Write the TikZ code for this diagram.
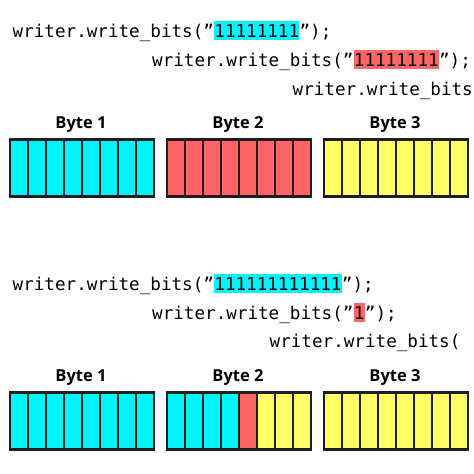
\documentclass[tikz,border=0pt]{standalone}
\usepackage{fontspec}
\usetikzlibrary{positioning}
\newfontfamily\codefont{DejaVu Sans Mono}
\newfontfamily\titrefont{Open Sans}
\definecolor{Cyan}{HTML}{00F6FF}
\definecolor{Rouge}{HTML}{FF6565}
\definecolor{Jaune}{HTML}{FFFF66}
\definecolor{Trait}{HTML}{1E1E1E}

\tikzset{
  code/.style={font=\codefont\fontsize{17.6}{20}\selectfont, inner sep=0pt, anchor=base west},
  surl/.style={code, fill=#1, text height=16.5pt, text depth=2.5pt},
  titre/.style={font=\titrefont\bfseries\fontsize{16.5}{19}\selectfont, inner sep=0pt},
  cellule/.style={fill=#1, draw=Trait, line width=1.3pt},
  octet/.style={draw=Trait, line width=2.2pt}
}

\begin{document}
\begin{tikzpicture}[x=1pt,y=-1pt]
  \useasboundingbox[fill=white] (0,0) rectangle (474,474);

  % premier cas : trois octets entiers
  \node[code] (a1) at (12.5,37.5) {writer.write\_bits(”};
  \node[surl=Cyan] (a1s) at (a1.base east) {11111111};
  \node[code] (a1f) at (a1s.base east) {”);};
  \node[code] (a2) at (152,66.5) {writer.write\_bits(”};
  \node[surl=Rouge] (a2s) at (a2.base east) {11111111};
  \node[code] (a2f) at (a2s.base east) {”);};
  \node[code] (a3) at (292.5,95) {writer.write\_bits};

  \foreach \coul [count=\i from 0] in {Cyan,Cyan,Cyan,Cyan,Cyan,Cyan,Cyan,Cyan,
      Rouge,Rouge,Rouge,Rouge,Rouge,Rouge,Rouge,Rouge,
      Jaune,Jaune,Jaune,Jaune,Jaune,Jaune,Jaune,Jaune}{
    \pgfmathsetmacro\xc{10+int(\i/8)*157+mod(\i,8)*18}
    \draw[cellule=\coul] (\xc,139.5) rectangle ++(18,57);
  }
  \foreach \k in {1,2,3}{
    \draw[octet] ({10+(\k-1)*157},139.5) rectangle ++(144,57);
    \node[titre] (h\k) at ({81+(\k-1)*157},125) {Byte \k};
  }

  % second cas : le 1 tombe au milieu de l'octet 2
  \node[code] (b1) at (12.5,290) {writer.write\_bits(”};
  \node[surl=Cyan] (b1s) at (b1.base east) {111111111111};
  \node[code] (b1f) at (b1s.base east) {”);};
  \node[code] (b2) at (152,319) {writer.write\_bits(”};
  \node[surl=Rouge] (b2s) at (b2.base east) {1};
  \node[code] (b2f) at (b2s.base east) {”);};
  \node[code] (b3) at (269.5,347.5) {writer.write\_bits(};

  \foreach \coul [count=\i from 0] in {Cyan,Cyan,Cyan,Cyan,Cyan,Cyan,Cyan,Cyan,
      Cyan,Cyan,Cyan,Cyan,Rouge,Jaune,Jaune,Jaune,
      Jaune,Jaune,Jaune,Jaune,Jaune,Jaune,Jaune,Jaune}{
    \pgfmathsetmacro\xc{10+int(\i/8)*157+mod(\i,8)*18}
    \draw[cellule=\coul] (\xc,392.5) rectangle ++(18,57);
  }
  \foreach \k in {1,2,3}{
    \draw[octet] ({10+(\k-1)*157},392.5) rectangle ++(144,57);
    \node[titre] (g\k) at ({81+(\k-1)*157},377.5) {Byte \k};
  }
\end{tikzpicture}
\end{document}
